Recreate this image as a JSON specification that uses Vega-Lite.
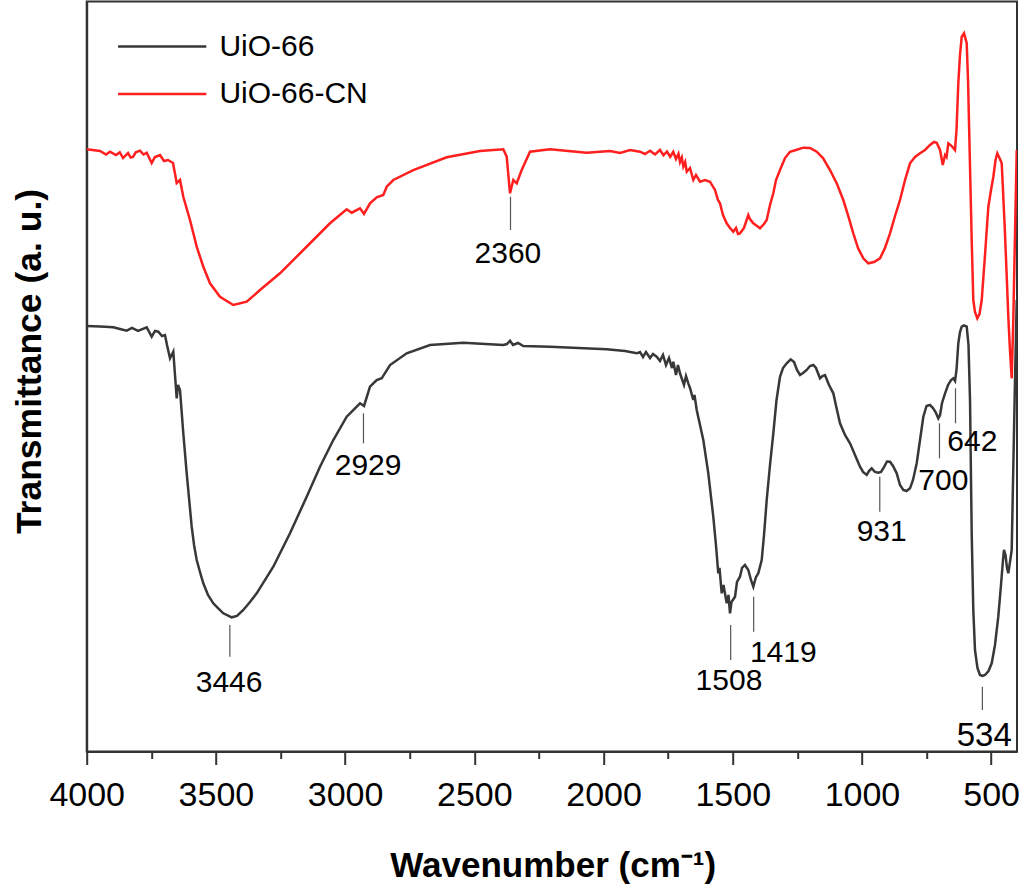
{
  "$schema": "https://vega.github.io/schema/vega-lite/v6.json",
  "autosize": {"type": "none"},
  "width": 930.3,
  "height": 750,
  "padding": {"left": 86.7, "top": 1.5, "right": 3, "bottom": 137.5},
  "background": "white",
  "config": {
    "view": {"stroke": "#333333", "strokeWidth": 2},
    "font": "Liberation Sans"
  },
  "datasets": {
    "spectra": [
      {"wn": 4000, "t": 80.29, "s": "UiO-66-CN"},
      {"wn": 3948.5, "t": 80.07, "s": "UiO-66-CN"},
      {"wn": 3925, "t": 79.6, "s": "UiO-66-CN"},
      {"wn": 3910, "t": 79.97, "s": "UiO-66-CN"},
      {"wn": 3886.6, "t": 79.53, "s": "UiO-66-CN"},
      {"wn": 3872, "t": 79.9, "s": "UiO-66-CN"},
      {"wn": 3859.5, "t": 79.13, "s": "UiO-66-CN"},
      {"wn": 3840, "t": 79.8, "s": "UiO-66-CN"},
      {"wn": 3830, "t": 79.2, "s": "UiO-66-CN"},
      {"wn": 3820.8, "t": 79.27, "s": "UiO-66-CN"},
      {"wn": 3810, "t": 79.9, "s": "UiO-66-CN"},
      {"wn": 3793.7, "t": 80.11, "s": "UiO-66-CN"},
      {"wn": 3780, "t": 79.6, "s": "UiO-66-CN"},
      {"wn": 3767.8, "t": 79.84, "s": "UiO-66-CN"},
      {"wn": 3748.5, "t": 78.47, "s": "UiO-66-CN"},
      {"wn": 3735.7, "t": 79.27, "s": "UiO-66-CN"},
      {"wn": 3716.4, "t": 79.53, "s": "UiO-66-CN"},
      {"wn": 3700.9, "t": 78.73, "s": "UiO-66-CN"},
      {"wn": 3685.4, "t": 78.87, "s": "UiO-66-CN"},
      {"wn": 3666, "t": 78.47, "s": "UiO-66-CN"},
      {"wn": 3651.7, "t": 75.8, "s": "UiO-66-CN"},
      {"wn": 3638.9, "t": 76.2, "s": "UiO-66-CN"},
      {"wn": 3626.2, "t": 73.97, "s": "UiO-66-CN"},
      {"wn": 3600.3, "t": 70.87, "s": "UiO-66-CN"},
      {"wn": 3574.3, "t": 67.31, "s": "UiO-66-CN"},
      {"wn": 3548.8, "t": 64.64, "s": "UiO-66-CN"},
      {"wn": 3522.9, "t": 62.43, "s": "UiO-66-CN"},
      {"wn": 3484.2, "t": 60.64, "s": "UiO-66-CN"},
      {"wn": 3432.7, "t": 59.53, "s": "UiO-66-CN"},
      {"wn": 3380.8, "t": 59.97, "s": "UiO-66-CN"},
      {"wn": 3329.4, "t": 61.53, "s": "UiO-66-CN"},
      {"wn": 3252, "t": 63.76, "s": "UiO-66-CN"},
      {"wn": 3187.4, "t": 65.97, "s": "UiO-66-CN"},
      {"wn": 3123.1, "t": 68.2, "s": "UiO-66-CN"},
      {"wn": 3058.5, "t": 70.43, "s": "UiO-66-CN"},
      {"wn": 2993.9, "t": 72.29, "s": "UiO-66-CN"},
      {"wn": 2974.5, "t": 71.84, "s": "UiO-66-CN"},
      {"wn": 2942.4, "t": 72.43, "s": "UiO-66-CN"},
      {"wn": 2926.9, "t": 71.67, "s": "UiO-66-CN"},
      {"wn": 2903.7, "t": 73.09, "s": "UiO-66-CN"},
      {"wn": 2877.8, "t": 73.89, "s": "UiO-66-CN"},
      {"wn": 2852.2, "t": 74.2, "s": "UiO-66-CN"},
      {"wn": 2839.1, "t": 75.31, "s": "UiO-66-CN"},
      {"wn": 2813.5, "t": 76.2, "s": "UiO-66-CN"},
      {"wn": 2736.2, "t": 77.53, "s": "UiO-66-CN"},
      {"wn": 2606.9, "t": 79.23, "s": "UiO-66-CN"},
      {"wn": 2478.1, "t": 80.07, "s": "UiO-66-CN"},
      {"wn": 2387.9, "t": 80.29, "s": "UiO-66-CN"},
      {"wn": 2374.7, "t": 79.31, "s": "UiO-66-CN"},
      {"wn": 2361.9, "t": 74.43, "s": "UiO-66-CN"},
      {"wn": 2349.1, "t": 76.2, "s": "UiO-66-CN"},
      {"wn": 2336, "t": 75.76, "s": "UiO-66-CN"},
      {"wn": 2316.7, "t": 77.53, "s": "UiO-66-CN"},
      {"wn": 2284.6, "t": 79.97, "s": "UiO-66-CN"},
      {"wn": 2207.2, "t": 80.29, "s": "UiO-66-CN"},
      {"wn": 2065.2, "t": 79.84, "s": "UiO-66-CN"},
      {"wn": 1975, "t": 80.07, "s": "UiO-66-CN"},
      {"wn": 1936, "t": 79.8, "s": "UiO-66-CN"},
      {"wn": 1897.3, "t": 80.2, "s": "UiO-66-CN"},
      {"wn": 1858.9, "t": 79.97, "s": "UiO-66-CN"},
      {"wn": 1839.6, "t": 79.67, "s": "UiO-66-CN"},
      {"wn": 1820, "t": 80.1, "s": "UiO-66-CN"},
      {"wn": 1800.9, "t": 79.6, "s": "UiO-66-CN"},
      {"wn": 1781.5, "t": 80.2, "s": "UiO-66-CN"},
      {"wn": 1768, "t": 79.5, "s": "UiO-66-CN"},
      {"wn": 1754.4, "t": 80.0, "s": "UiO-66-CN"},
      {"wn": 1742, "t": 79.3, "s": "UiO-66-CN"},
      {"wn": 1730, "t": 79.97, "s": "UiO-66-CN"},
      {"wn": 1719.6, "t": 79.0, "s": "UiO-66-CN"},
      {"wn": 1710, "t": 79.7, "s": "UiO-66-CN"},
      {"wn": 1704.1, "t": 78.6, "s": "UiO-66-CN"},
      {"wn": 1697, "t": 79.2, "s": "UiO-66-CN"},
      {"wn": 1691.2, "t": 78.0, "s": "UiO-66-CN"},
      {"wn": 1684, "t": 78.6, "s": "UiO-66-CN"},
      {"wn": 1678, "t": 77.3, "s": "UiO-66-CN"},
      {"wn": 1665.3, "t": 77.8, "s": "UiO-66-CN"},
      {"wn": 1652.6, "t": 76.2, "s": "UiO-66-CN"},
      {"wn": 1642.2, "t": 76.87, "s": "UiO-66-CN"},
      {"wn": 1626.7, "t": 75.97, "s": "UiO-66-CN"},
      {"wn": 1607.4, "t": 76.2, "s": "UiO-66-CN"},
      {"wn": 1588, "t": 75.97, "s": "UiO-66-CN"},
      {"wn": 1568.7, "t": 74.87, "s": "UiO-66-CN"},
      {"wn": 1557.1, "t": 73.53, "s": "UiO-66-CN"},
      {"wn": 1549.3, "t": 73.09, "s": "UiO-66-CN"},
      {"wn": 1537.7, "t": 71.53, "s": "UiO-66-CN"},
      {"wn": 1523.4, "t": 70.43, "s": "UiO-66-CN"},
      {"wn": 1510.6, "t": 69.8, "s": "UiO-66-CN"},
      {"wn": 1497.8, "t": 69.31, "s": "UiO-66-CN"},
      {"wn": 1487.4, "t": 69.8, "s": "UiO-66-CN"},
      {"wn": 1479.7, "t": 69.0, "s": "UiO-66-CN"},
      {"wn": 1471.9, "t": 69.09, "s": "UiO-66-CN"},
      {"wn": 1456.4, "t": 69.8, "s": "UiO-66-CN"},
      {"wn": 1439.9, "t": 71.53, "s": "UiO-66-CN"},
      {"wn": 1433.3, "t": 71.0, "s": "UiO-66-CN"},
      {"wn": 1420.4, "t": 70.43, "s": "UiO-66-CN"},
      {"wn": 1406.1, "t": 70.07, "s": "UiO-66-CN"},
      {"wn": 1394.5, "t": 69.76, "s": "UiO-66-CN"},
      {"wn": 1379, "t": 70.33, "s": "UiO-66-CN"},
      {"wn": 1368.6, "t": 70.87, "s": "UiO-66-CN"},
      {"wn": 1355.8, "t": 72.87, "s": "UiO-66-CN"},
      {"wn": 1343, "t": 74.43, "s": "UiO-66-CN"},
      {"wn": 1332.6, "t": 76.2, "s": "UiO-66-CN"},
      {"wn": 1317.1, "t": 77.53, "s": "UiO-66-CN"},
      {"wn": 1297.7, "t": 79.13, "s": "UiO-66-CN"},
      {"wn": 1278.4, "t": 79.97, "s": "UiO-66-CN"},
      {"wn": 1255.2, "t": 80.2, "s": "UiO-66-CN"},
      {"wn": 1226.9, "t": 80.51, "s": "UiO-66-CN"},
      {"wn": 1201, "t": 80.47, "s": "UiO-66-CN"},
      {"wn": 1175.1, "t": 79.97, "s": "UiO-66-CN"},
      {"wn": 1150.7, "t": 79.13, "s": "UiO-66-CN"},
      {"wn": 1123.6, "t": 77.53, "s": "UiO-66-CN"},
      {"wn": 1096.5, "t": 75.67, "s": "UiO-66-CN"},
      {"wn": 1072.2, "t": 73.53, "s": "UiO-66-CN"},
      {"wn": 1054, "t": 71.53, "s": "UiO-66-CN"},
      {"wn": 1033.4, "t": 69.09, "s": "UiO-66-CN"},
      {"wn": 1015.2, "t": 67.13, "s": "UiO-66-CN"},
      {"wn": 994.8, "t": 65.76, "s": "UiO-66-CN"},
      {"wn": 975.4, "t": 65.09, "s": "UiO-66-CN"},
      {"wn": 953.3, "t": 65.27, "s": "UiO-66-CN"},
      {"wn": 930.1, "t": 65.76, "s": "UiO-66-CN"},
      {"wn": 910.9, "t": 67.13, "s": "UiO-66-CN"},
      {"wn": 891.4, "t": 69.09, "s": "UiO-66-CN"},
      {"wn": 872, "t": 71.4, "s": "UiO-66-CN"},
      {"wn": 852.7, "t": 73.53, "s": "UiO-66-CN"},
      {"wn": 833.3, "t": 76.2, "s": "UiO-66-CN"},
      {"wn": 814, "t": 78.43, "s": "UiO-66-CN"},
      {"wn": 794.6, "t": 79.27, "s": "UiO-66-CN"},
      {"wn": 775.3, "t": 79.76, "s": "UiO-66-CN"},
      {"wn": 756, "t": 80.2, "s": "UiO-66-CN"},
      {"wn": 736.6, "t": 80.87, "s": "UiO-66-CN"},
      {"wn": 721.2, "t": 81.27, "s": "UiO-66-CN"},
      {"wn": 710.8, "t": 81.17, "s": "UiO-66-CN"},
      {"wn": 697.8, "t": 80.2, "s": "UiO-66-CN"},
      {"wn": 687.3, "t": 78.2, "s": "UiO-66-CN"},
      {"wn": 678.4, "t": 79.53, "s": "UiO-66-CN"},
      {"wn": 672.7, "t": 79.27, "s": "UiO-66-CN"},
      {"wn": 665.8, "t": 81.09, "s": "UiO-66-CN"},
      {"wn": 652.7, "t": 80.73, "s": "UiO-66-CN"},
      {"wn": 640, "t": 80.2, "s": "UiO-66-CN"},
      {"wn": 634.1, "t": 82.87, "s": "UiO-66-CN"},
      {"wn": 627.1, "t": 89.09, "s": "UiO-66-CN"},
      {"wn": 620.6, "t": 92.87, "s": "UiO-66-CN"},
      {"wn": 613.9, "t": 95.31, "s": "UiO-66-CN"},
      {"wn": 605, "t": 95.76, "s": "UiO-66-CN"},
      {"wn": 594.6, "t": 94.43, "s": "UiO-66-CN"},
      {"wn": 589.5, "t": 89.53, "s": "UiO-66-CN"},
      {"wn": 581.8, "t": 77.97, "s": "UiO-66-CN"},
      {"wn": 575.3, "t": 68.2, "s": "UiO-66-CN"},
      {"wn": 569.1, "t": 60.2, "s": "UiO-66-CN"},
      {"wn": 562.6, "t": 58.6, "s": "UiO-66-CN"},
      {"wn": 553.6, "t": 57.76, "s": "UiO-66-CN"},
      {"wn": 545.1, "t": 58.33, "s": "UiO-66-CN"},
      {"wn": 536.5, "t": 60.2, "s": "UiO-66-CN"},
      {"wn": 523.8, "t": 66.2, "s": "UiO-66-CN"},
      {"wn": 510.9, "t": 72.64, "s": "UiO-66-CN"},
      {"wn": 500.5, "t": 74.87, "s": "UiO-66-CN"},
      {"wn": 491.5, "t": 76.64, "s": "UiO-66-CN"},
      {"wn": 483, "t": 78.87, "s": "UiO-66-CN"},
      {"wn": 476.2, "t": 79.76, "s": "UiO-66-CN"},
      {"wn": 467.7, "t": 79.13, "s": "UiO-66-CN"},
      {"wn": 459.2, "t": 78.43, "s": "UiO-66-CN"},
      {"wn": 454.2, "t": 74.87, "s": "UiO-66-CN"},
      {"wn": 446.4, "t": 69.09, "s": "UiO-66-CN"},
      {"wn": 433.6, "t": 57.97, "s": "UiO-66-CN"},
      {"wn": 427.2, "t": 53.53, "s": "UiO-66-CN"},
      {"wn": 420.5, "t": 49.76, "s": "UiO-66-CN"},
      {"wn": 414.3, "t": 57.53, "s": "UiO-66-CN"},
      {"wn": 407.7, "t": 69.13, "s": "UiO-66-CN"},
      {"wn": 401, "t": 80.2, "s": "UiO-66-CN"},

      {"wn": 4000, "t": 56.73, "s": "UiO-66"},
      {"wn": 3948.5, "t": 56.67, "s": "UiO-66"},
      {"wn": 3897, "t": 56.56, "s": "UiO-66"},
      {"wn": 3871.1, "t": 56.33, "s": "UiO-66"},
      {"wn": 3845.2, "t": 56.11, "s": "UiO-66"},
      {"wn": 3824.7, "t": 56.47, "s": "UiO-66"},
      {"wn": 3801.5, "t": 56.07, "s": "UiO-66"},
      {"wn": 3767.8, "t": 56.56, "s": "UiO-66"},
      {"wn": 3748.5, "t": 55.31, "s": "UiO-66"},
      {"wn": 3735.7, "t": 56.07, "s": "UiO-66"},
      {"wn": 3722.9, "t": 55.97, "s": "UiO-66"},
      {"wn": 3708.6, "t": 55.4, "s": "UiO-66"},
      {"wn": 3697, "t": 55.53, "s": "UiO-66"},
      {"wn": 3689.3, "t": 54.2, "s": "UiO-66"},
      {"wn": 3677.6, "t": 52.43, "s": "UiO-66"},
      {"wn": 3664.9, "t": 53.31, "s": "UiO-66"},
      {"wn": 3651.7, "t": 47.09, "s": "UiO-66"},
      {"wn": 3646.7, "t": 48.87, "s": "UiO-66"},
      {"wn": 3638.9, "t": 48.2, "s": "UiO-66"},
      {"wn": 3626.2, "t": 42.43, "s": "UiO-66"},
      {"wn": 3613, "t": 37.09, "s": "UiO-66"},
      {"wn": 3593.7, "t": 29.97, "s": "UiO-66"},
      {"wn": 3584.6, "t": 27.53, "s": "UiO-66"},
      {"wn": 3574.3, "t": 25.53, "s": "UiO-66"},
      {"wn": 3561.6, "t": 23.93, "s": "UiO-66"},
      {"wn": 3548.8, "t": 22.43, "s": "UiO-66"},
      {"wn": 3530.6, "t": 20.87, "s": "UiO-66"},
      {"wn": 3510.1, "t": 19.76, "s": "UiO-66"},
      {"wn": 3491.9, "t": 19.13, "s": "UiO-66"},
      {"wn": 3471.4, "t": 18.43, "s": "UiO-66"},
      {"wn": 3438.9, "t": 17.89, "s": "UiO-66"},
      {"wn": 3418.4, "t": 18.07, "s": "UiO-66"},
      {"wn": 3394, "t": 18.87, "s": "UiO-66"},
      {"wn": 3368.1, "t": 19.93, "s": "UiO-66"},
      {"wn": 3342.2, "t": 21.09, "s": "UiO-66"},
      {"wn": 3277.9, "t": 24.64, "s": "UiO-66"},
      {"wn": 3213.3, "t": 29.09, "s": "UiO-66"},
      {"wn": 3148.7, "t": 33.97, "s": "UiO-66"},
      {"wn": 3097.2, "t": 37.97, "s": "UiO-66"},
      {"wn": 3045.7, "t": 41.53, "s": "UiO-66"},
      {"wn": 2993.9, "t": 44.64, "s": "UiO-66"},
      {"wn": 2942.4, "t": 46.43, "s": "UiO-66"},
      {"wn": 2926.9, "t": 46.07, "s": "UiO-66"},
      {"wn": 2903.7, "t": 48.64, "s": "UiO-66"},
      {"wn": 2877.8, "t": 49.53, "s": "UiO-66"},
      {"wn": 2858.4, "t": 49.76, "s": "UiO-66"},
      {"wn": 2826.3, "t": 51.53, "s": "UiO-66"},
      {"wn": 2761.7, "t": 53.09, "s": "UiO-66"},
      {"wn": 2671.5, "t": 54.2, "s": "UiO-66"},
      {"wn": 2542.7, "t": 54.51, "s": "UiO-66"},
      {"wn": 2387.9, "t": 54.2, "s": "UiO-66"},
      {"wn": 2373.6, "t": 54.33, "s": "UiO-66"},
      {"wn": 2361.9, "t": 54.77, "s": "UiO-66"},
      {"wn": 2350.3, "t": 54.2, "s": "UiO-66"},
      {"wn": 2330.9, "t": 54.47, "s": "UiO-66"},
      {"wn": 2310.5, "t": 54.07, "s": "UiO-66"},
      {"wn": 2207.2, "t": 53.97, "s": "UiO-66"},
      {"wn": 1987.8, "t": 53.63, "s": "UiO-66"},
      {"wn": 1916.9, "t": 53.4, "s": "UiO-66"},
      {"wn": 1871.7, "t": 53.09, "s": "UiO-66"},
      {"wn": 1858.9, "t": 53.27, "s": "UiO-66"},
      {"wn": 1847.3, "t": 52.6, "s": "UiO-66"},
      {"wn": 1835.7, "t": 53.27, "s": "UiO-66"},
      {"wn": 1820.2, "t": 52.47, "s": "UiO-66"},
      {"wn": 1808.6, "t": 53.0, "s": "UiO-66"},
      {"wn": 1794.3, "t": 52.64, "s": "UiO-66"},
      {"wn": 1781.5, "t": 52.07, "s": "UiO-66"},
      {"wn": 1769.9, "t": 52.87, "s": "UiO-66"},
      {"wn": 1758.3, "t": 51.53, "s": "UiO-66"},
      {"wn": 1746.7, "t": 52.47, "s": "UiO-66"},
      {"wn": 1735.1, "t": 51.13, "s": "UiO-66"},
      {"wn": 1730, "t": 51.97, "s": "UiO-66"},
      {"wn": 1719.6, "t": 50.2, "s": "UiO-66"},
      {"wn": 1711.9, "t": 51.53, "s": "UiO-66"},
      {"wn": 1704.1, "t": 50.43, "s": "UiO-66"},
      {"wn": 1688.7, "t": 48.87, "s": "UiO-66"},
      {"wn": 1680.9, "t": 50.07, "s": "UiO-66"},
      {"wn": 1672, "t": 49.09, "s": "UiO-66"},
      {"wn": 1665.4, "t": 48.47, "s": "UiO-66"},
      {"wn": 1652.6, "t": 46.87, "s": "UiO-66"},
      {"wn": 1648, "t": 47.53, "s": "UiO-66"},
      {"wn": 1639.4, "t": 45.53, "s": "UiO-66"},
      {"wn": 1626.7, "t": 43.53, "s": "UiO-66"},
      {"wn": 1613.9, "t": 41.53, "s": "UiO-66"},
      {"wn": 1594.6, "t": 37.09, "s": "UiO-66"},
      {"wn": 1575.3, "t": 31.31, "s": "UiO-66"},
      {"wn": 1564.9, "t": 27.53, "s": "UiO-66"},
      {"wn": 1555.9, "t": 23.76, "s": "UiO-66"},
      {"wn": 1551.3, "t": 24.47, "s": "UiO-66"},
      {"wn": 1542.7, "t": 21.09, "s": "UiO-66"},
      {"wn": 1535.8, "t": 22.2, "s": "UiO-66"},
      {"wn": 1523.4, "t": 19.76, "s": "UiO-66"},
      {"wn": 1516.4, "t": 20.87, "s": "UiO-66"},
      {"wn": 1510.6, "t": 18.43, "s": "UiO-66"},
      {"wn": 1504.8, "t": 19.93, "s": "UiO-66"},
      {"wn": 1491.2, "t": 20.64, "s": "UiO-66"},
      {"wn": 1483.5, "t": 22.6, "s": "UiO-66"},
      {"wn": 1471.9, "t": 23.31, "s": "UiO-66"},
      {"wn": 1464.1, "t": 24.47, "s": "UiO-66"},
      {"wn": 1452.6, "t": 24.87, "s": "UiO-66"},
      {"wn": 1439.9, "t": 24.2, "s": "UiO-66"},
      {"wn": 1429.4, "t": 22.87, "s": "UiO-66"},
      {"wn": 1420.4, "t": 21.97, "s": "UiO-66"},
      {"wn": 1410, "t": 23.27, "s": "UiO-66"},
      {"wn": 1401.1, "t": 23.76, "s": "UiO-66"},
      {"wn": 1387.9, "t": 25.53, "s": "UiO-66"},
      {"wn": 1378.9, "t": 28.87, "s": "UiO-66"},
      {"wn": 1368.6, "t": 33.53, "s": "UiO-66"},
      {"wn": 1355.8, "t": 38.2, "s": "UiO-66"},
      {"wn": 1343, "t": 42.43, "s": "UiO-66"},
      {"wn": 1330.6, "t": 46.87, "s": "UiO-66"},
      {"wn": 1317.1, "t": 49.97, "s": "UiO-66"},
      {"wn": 1305.5, "t": 51.13, "s": "UiO-66"},
      {"wn": 1291.2, "t": 51.76, "s": "UiO-66"},
      {"wn": 1275.7, "t": 52.29, "s": "UiO-66"},
      {"wn": 1262.9, "t": 51.93, "s": "UiO-66"},
      {"wn": 1251.3, "t": 50.87, "s": "UiO-66"},
      {"wn": 1239.7, "t": 50.2, "s": "UiO-66"},
      {"wn": 1228.1, "t": 50.47, "s": "UiO-66"},
      {"wn": 1213.8, "t": 50.87, "s": "UiO-66"},
      {"wn": 1201, "t": 51.4, "s": "UiO-66"},
      {"wn": 1188.2, "t": 51.53, "s": "UiO-66"},
      {"wn": 1177.8, "t": 51.13, "s": "UiO-66"},
      {"wn": 1162.4, "t": 49.76, "s": "UiO-66"},
      {"wn": 1152.7, "t": 50.07, "s": "UiO-66"},
      {"wn": 1143, "t": 50.2, "s": "UiO-66"},
      {"wn": 1127.5, "t": 48.87, "s": "UiO-66"},
      {"wn": 1110.8, "t": 47.76, "s": "UiO-66"},
      {"wn": 1098.4, "t": 45.8, "s": "UiO-66"},
      {"wn": 1084.9, "t": 43.76, "s": "UiO-66"},
      {"wn": 1065.6, "t": 42.2, "s": "UiO-66"},
      {"wn": 1046.2, "t": 41.09, "s": "UiO-66"},
      {"wn": 1026.9, "t": 39.53, "s": "UiO-66"},
      {"wn": 1007.5, "t": 37.97, "s": "UiO-66"},
      {"wn": 995.9, "t": 37.27, "s": "UiO-66"},
      {"wn": 981.6, "t": 36.87, "s": "UiO-66"},
      {"wn": 972.7, "t": 37.4, "s": "UiO-66"},
      {"wn": 962.3, "t": 37.76, "s": "UiO-66"},
      {"wn": 949.5, "t": 37.27, "s": "UiO-66"},
      {"wn": 936.7, "t": 37.17, "s": "UiO-66"},
      {"wn": 926.3, "t": 37.27, "s": "UiO-66"},
      {"wn": 914.7, "t": 37.93, "s": "UiO-66"},
      {"wn": 903.1, "t": 38.67, "s": "UiO-66"},
      {"wn": 891.4, "t": 38.64, "s": "UiO-66"},
      {"wn": 879.8, "t": 38.07, "s": "UiO-66"},
      {"wn": 865.5, "t": 37.09, "s": "UiO-66"},
      {"wn": 852.7, "t": 35.53, "s": "UiO-66"},
      {"wn": 840, "t": 34.87, "s": "UiO-66"},
      {"wn": 827.6, "t": 34.73, "s": "UiO-66"},
      {"wn": 814, "t": 35.09, "s": "UiO-66"},
      {"wn": 802.4, "t": 36.2, "s": "UiO-66"},
      {"wn": 788.1, "t": 38.43, "s": "UiO-66"},
      {"wn": 775.3, "t": 41.53, "s": "UiO-66"},
      {"wn": 762.5, "t": 44.64, "s": "UiO-66"},
      {"wn": 750.1, "t": 46.07, "s": "UiO-66"},
      {"wn": 736.6, "t": 46.2, "s": "UiO-66"},
      {"wn": 725, "t": 45.8, "s": "UiO-66"},
      {"wn": 715.3, "t": 45.27, "s": "UiO-66"},
      {"wn": 704.5, "t": 44.43, "s": "UiO-66"},
      {"wn": 697.8, "t": 44.87, "s": "UiO-66"},
      {"wn": 690.1, "t": 46.47, "s": "UiO-66"},
      {"wn": 678.4, "t": 47.76, "s": "UiO-66"},
      {"wn": 666.8, "t": 48.87, "s": "UiO-66"},
      {"wn": 655.2, "t": 49.53, "s": "UiO-66"},
      {"wn": 646.3, "t": 49.76, "s": "UiO-66"},
      {"wn": 639.7, "t": 49.4, "s": "UiO-66"},
      {"wn": 634.1, "t": 50.87, "s": "UiO-66"},
      {"wn": 627.1, "t": 54.43, "s": "UiO-66"},
      {"wn": 620.6, "t": 55.93, "s": "UiO-66"},
      {"wn": 613.9, "t": 56.64, "s": "UiO-66"},
      {"wn": 605, "t": 56.8, "s": "UiO-66"},
      {"wn": 594.6, "t": 56.64, "s": "UiO-66"},
      {"wn": 587.7, "t": 54.2, "s": "UiO-66"},
      {"wn": 581.8, "t": 46.87, "s": "UiO-66"},
      {"wn": 575.3, "t": 29.09, "s": "UiO-66"},
      {"wn": 569.1, "t": 18.87, "s": "UiO-66"},
      {"wn": 562.6, "t": 13.53, "s": "UiO-66"},
      {"wn": 553, "t": 11.13, "s": "UiO-66"},
      {"wn": 543.3, "t": 10.2, "s": "UiO-66"},
      {"wn": 533.6, "t": 10.07, "s": "UiO-66"},
      {"wn": 523.8, "t": 10.2, "s": "UiO-66"},
      {"wn": 510.3, "t": 10.73, "s": "UiO-66"},
      {"wn": 497.9, "t": 11.76, "s": "UiO-66"},
      {"wn": 485.2, "t": 14.2, "s": "UiO-66"},
      {"wn": 472.4, "t": 17.97, "s": "UiO-66"},
      {"wn": 461.9, "t": 22.2, "s": "UiO-66"},
      {"wn": 454.2, "t": 25.53, "s": "UiO-66"},
      {"wn": 450.3, "t": 26.87, "s": "UiO-66"},
      {"wn": 444.5, "t": 26.2, "s": "UiO-66"},
      {"wn": 438.7, "t": 24.47, "s": "UiO-66"},
      {"wn": 433.6, "t": 23.76, "s": "UiO-66"},
      {"wn": 427.1, "t": 25.27, "s": "UiO-66"},
      {"wn": 420.5, "t": 26.87, "s": "UiO-66"},
      {"wn": 414.3, "t": 37.97, "s": "UiO-66"},
      {"wn": 407.7, "t": 49.53, "s": "UiO-66"},
      {"wn": 401, "t": 60.2, "s": "UiO-66"}
    ],
    "peaks": [
      {"label": "2360", "wn": 2360, "top": 73.97, "bottom": 69.53, "lx": 2370, "ly": 65.09},
      {"label": "3446", "wn": 3446, "top": 16.87, "bottom": 12.64, "lx": 3449, "ly": 7.97},
      {"label": "2929", "wn": 2929, "top": 45.09, "bottom": 41.09, "lx": 2911, "ly": 36.87},
      {"label": "1508", "wn": 1508, "top": 16.87, "bottom": 12.2, "lx": 1514.6, "ly": 8.2},
      {"label": "1419", "wn": 1419, "top": 20.64, "bottom": 15.97, "lx": 1304.3, "ly": 11.97},
      {"label": "931", "wn": 931, "top": 36.64, "bottom": 31.97, "lx": 923.6, "ly": 28.11},
      {"label": "700", "wn": 700, "top": 43.76, "bottom": 39.09, "lx": 685.2, "ly": 34.87},
      {"label": "642", "wn": 638, "top": 48.43, "bottom": 43.76, "lx": 572.9, "ly": 40.11},
      {"label": "534", "wn": 534, "top": 8.64, "bottom": 5.53, "lx": 526.6, "ly": 0.77}
    ]
  },
  "resolve": {"scale": {"x": "independent"}, "axis": {"x": "independent"}},
  "layer": [
    {
      "data": {"name": "spectra"},
      "mark": {"type": "line", "strokeWidth": 2.5, "clip": true},
      "encoding": {
        "x": {
          "field": "wn",
          "type": "quantitative",
          "scale": {"domain": [400, 4000], "reverse": true, "nice": false, "zero": false},
          "axis": {
            "orient": "bottom",
            "title": "Wavenumber (cm⁻¹)",
            "values": [4000, 3500, 3000, 2500, 2000, 1500, 1000, 500],
            "format": "d",
            "grid": false,
            "domainColor": "#333333",
            "domainWidth": 2,
            "tickColor": "#333333",
            "tickWidth": 2,
            "tickSize": 13,
            "labelFont": "Liberation Sans",
            "labelFontSize": 34,
            "labelColor": "#000000",
            "labelBaseline": "alphabetic",
            "labelPadding": 40.5,
            "labelFlush": false,
            "labelOverlap": false,
            "titleFont": "Liberation Sans",
            "titleFontSize": 35,
            "titleFontWeight": "bold",
            "titleColor": "#000000",
            "titleBaseline": "alphabetic",
            "titleAnchor": "middle",
            "titleX": 466,
            "titleY": 124.5
          }
        },
        "y": {
          "field": "t",
          "type": "quantitative",
          "scale": {"domain": [0, 100], "nice": false, "zero": false},
          "axis": {
            "title": "Transmittance (a. u.)",
            "ticks": false,
            "labels": false,
            "grid": false,
            "domainColor": "#333333",
            "domainWidth": 2,
            "titleFont": "Liberation Sans",
            "titleFontSize": 35.5,
            "titleFontWeight": "bold",
            "titleColor": "#000000",
            "titleBaseline": "alphabetic",
            "titleAngle": -90,
            "titleAlign": "center",
            "titleX": -46,
            "titleY": 359.5
          }
        },
        "color": {
          "field": "s",
          "type": "nominal",
          "scale": {"domain": ["UiO-66", "UiO-66-CN"], "range": ["#383838", "#ff1f1f"]},
          "legend": {
            "title": null,
            "orient": "none",
            "legendX": 30,
            "legendY": 25,
            "padding": 0,
            "symbolType": "stroke",
            "symbolSize": 7800,
            "symbolStrokeWidth": 2.5,
            "clipHeight": 40,
            "rowPadding": 7.6,
            "labelOffset": 11.7,
            "labelFont": "Liberation Sans",
            "labelFontSize": 30,
            "labelColor": "#000000",
            "labelLimit": 400
          }
        }
      }
    },
    {
      "data": {"name": "peaks"},
      "mark": {"type": "rule", "color": "#555555", "strokeWidth": 1.2},
      "encoding": {
        "x": {
          "field": "wn",
          "type": "quantitative",
          "scale": {"domain": [400, 4000], "reverse": true, "nice": false, "zero": false},
          "axis": {
            "orient": "bottom",
            "title": null,
            "values": [3750, 3250, 2750, 2250, 1750, 1250, 750],
            "labels": false,
            "domain": false,
            "grid": false,
            "tickColor": "#333333",
            "tickWidth": 2,
            "tickSize": 7
          }
        },
        "y": {"field": "top", "type": "quantitative"},
        "y2": {"field": "bottom"}
      }
    },
    {
      "data": {"name": "peaks"},
      "mark": {"type": "text", "font": "Liberation Sans", "align": "center", "baseline": "alphabetic", "color": "#000000"},
      "encoding": {
        "x": {
          "field": "lx",
          "type": "quantitative",
          "scale": {"domain": [400, 4000], "reverse": true, "nice": false, "zero": false},
          "axis": null
        },
        "y": {"field": "ly", "type": "quantitative"},
        "text": {"field": "label"},
        "size": {"condition": {"test": "datum.label === '534'", "value": 33}, "value": 30}
      }
    }
  ]
}
